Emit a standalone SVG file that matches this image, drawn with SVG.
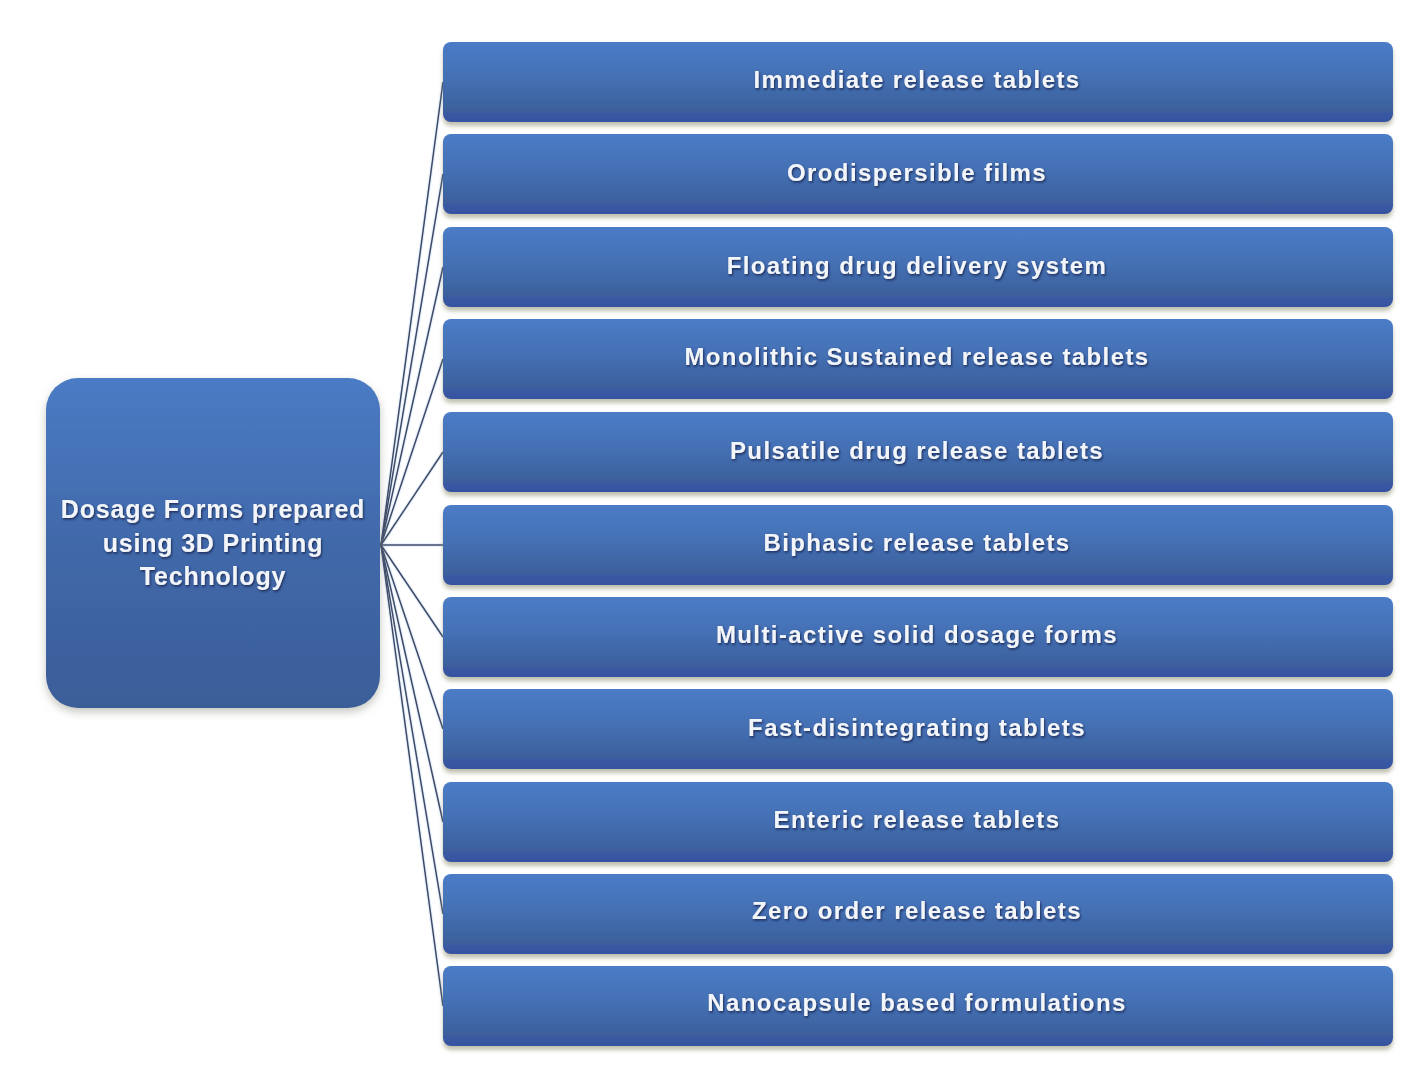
<svg xmlns="http://www.w3.org/2000/svg" width="1422" height="1070" viewBox="0 0 1422 1070">
<defs>
<linearGradient id="gBox" x1="0" y1="0" x2="0" y2="1">
<stop offset="0" stop-color="#4b7cc6"/>
<stop offset="0.45" stop-color="#4470b4"/>
<stop offset="0.85" stop-color="#3c609c"/>
<stop offset="0.9" stop-color="#3958a2"/>
<stop offset="1" stop-color="#3552a0"/>
</linearGradient>
<linearGradient id="gMain" x1="0" y1="0" x2="0" y2="1">
<stop offset="0" stop-color="#4a7bc4"/>
<stop offset="0.5" stop-color="#4169aa"/>
<stop offset="1" stop-color="#3b5d98"/>
</linearGradient>
<filter id="boxShadow" x="-5%" y="-20%" width="110%" height="150%">
<feDropShadow dx="0" dy="4" stdDeviation="2" flood-color="#8c8c6e" flood-opacity="0.55"/>
</filter>
<filter id="mainShadow" x="-10%" y="-10%" width="120%" height="120%">
<feDropShadow dx="0" dy="4" stdDeviation="4" flood-color="#8c8c80" flood-opacity="0.5"/>
</filter>
<filter id="txtShadow" x="-5%" y="-30%" width="110%" height="160%">
<feDropShadow dx="1" dy="1.5" stdDeviation="1" flood-color="#14244a" flood-opacity="0.85"/>
</filter>
</defs>
<style>
.box{fill:url(#gBox);filter:url(#boxShadow);}
.main{fill:url(#gMain);filter:url(#mainShadow);}
.lbl{font-family:"Liberation Sans",Arial,sans-serif;font-weight:bold;font-size:24px;fill:#f2f5fa;text-anchor:middle;letter-spacing:1.4px;filter:url(#txtShadow);}
.ttl{font-family:"Liberation Sans",Arial,sans-serif;font-weight:bold;font-size:25px;fill:#f2f5fa;text-anchor:middle;letter-spacing:0.8px;filter:url(#txtShadow);}
.con{stroke:#3d4a68;stroke-width:1.5;fill:none;}
.halo{stroke:#eaf2fb;stroke-width:4;fill:none;}
</style>
<rect width="1422" height="1070" fill="#ffffff"/>
<g id="connectors">
<g class="halo">
<line x1="381" y1="545" x2="443" y2="82"/>
<line x1="381" y1="545" x2="443" y2="174"/>
<line x1="381" y1="545" x2="443" y2="267"/>
<line x1="381" y1="545" x2="443" y2="359"/>
<line x1="381" y1="545" x2="443" y2="452"/>
<line x1="381" y1="545" x2="443" y2="545"/>
<line x1="381" y1="545" x2="443" y2="637"/>
<line x1="381" y1="545" x2="443" y2="729"/>
<line x1="381" y1="545" x2="443" y2="822"/>
<line x1="381" y1="545" x2="443" y2="914"/>
<line x1="381" y1="545" x2="443" y2="1006"/>
</g>
<g class="con">
<line x1="381" y1="545" x2="443" y2="82"/>
<line x1="381" y1="545" x2="443" y2="174"/>
<line x1="381" y1="545" x2="443" y2="267"/>
<line x1="381" y1="545" x2="443" y2="359"/>
<line x1="381" y1="545" x2="443" y2="452"/>
<line x1="381" y1="545" x2="443" y2="545"/>
<line x1="381" y1="545" x2="443" y2="637"/>
<line x1="381" y1="545" x2="443" y2="729"/>
<line x1="381" y1="545" x2="443" y2="822"/>
<line x1="381" y1="545" x2="443" y2="914"/>
<line x1="381" y1="545" x2="443" y2="1006"/>
</g>
</g>
<g id="main">
<rect class="main" x="46" y="378" width="334" height="330" rx="32"/>
<text class="ttl" x="213" y="518">Dosage Forms prepared</text>
<text class="ttl" x="213" y="552">using 3D Printing</text>
<text class="ttl" x="213" y="585">Technology</text>
</g>
<g id="n1"><rect class="box" x="443" y="42" width="950" height="80" rx="8"/><text class="lbl" x="917" y="88">Immediate release tablets</text></g>
<g id="n2"><rect class="box" x="443" y="134" width="950" height="80" rx="8"/><text class="lbl" x="917" y="181">Orodispersible films</text></g>
<g id="n3"><rect class="box" x="443" y="227" width="950" height="80" rx="8"/><text class="lbl" x="917" y="274">Floating drug delivery system</text></g>
<g id="n4"><rect class="box" x="443" y="319" width="950" height="80" rx="8"/><text class="lbl" x="917" y="365">Monolithic Sustained release tablets</text></g>
<g id="n5"><rect class="box" x="443" y="412" width="950" height="80" rx="8"/><text class="lbl" x="917" y="459">Pulsatile drug release tablets</text></g>
<g id="n6"><rect class="box" x="443" y="505" width="950" height="80" rx="8"/><text class="lbl" x="917" y="551">Biphasic release tablets</text></g>
<g id="n7"><rect class="box" x="443" y="597" width="950" height="80" rx="8"/><text class="lbl" x="917" y="643">Multi-active solid dosage forms</text></g>
<g id="n8"><rect class="box" x="443" y="689" width="950" height="80" rx="8"/><text class="lbl" x="917" y="736">Fast-disintegrating tablets</text></g>
<g id="n9"><rect class="box" x="443" y="782" width="950" height="80" rx="8"/><text class="lbl" x="917" y="828">Enteric release tablets</text></g>
<g id="n10"><rect class="box" x="443" y="874" width="950" height="80" rx="8"/><text class="lbl" x="917" y="919">Zero order release tablets</text></g>
<g id="n11"><rect class="box" x="443" y="966" width="950" height="80" rx="8"/><text class="lbl" x="917" y="1011">Nanocapsule based formulations</text></g>
</svg>
